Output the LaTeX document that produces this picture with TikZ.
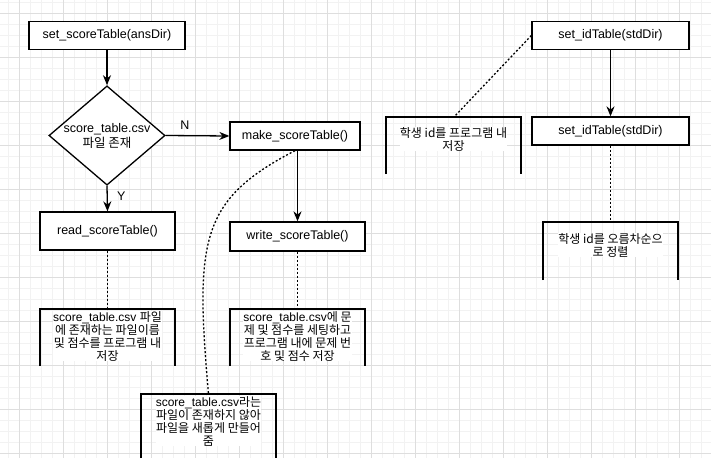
\documentclass[tikz,border=0pt]{standalone}
\usepackage{fontspec}
\setmainfont{Liberation Sans}
\newfontfamily\kr{Noto Sans CJK KR}
\newcommand{\K}[1]{{\kr #1}}
\usetikzlibrary{shapes.geometric,arrows.meta}
\begin{document}
\begin{tikzpicture}[x=1pt,y=-1pt,
  box/.style={draw,line width=1.3pt,fill=white,minimum height=28pt,font=\fontsize{12.5}{14}\selectfont,inner sep=0pt},
  note/.style={fill=white,align=center,font=\fontsize{12}{13}\selectfont,inner sep=0pt,anchor=north},
  side/.style={line width=1.3pt},
  arr/.style={-{Stealth[length=10pt,width=8pt]},line width=1.3pt},
  dot/.style={line width=1.3pt,dash pattern=on 2pt off 2pt}]
\useasboundingbox (0,0) rectangle (711,458);
\fill[white] (0,0) rectangle (711,458);
\foreach \x in {8,19,...,711} \draw[black!5,line width=0.5pt] (\x,0)--(\x,458);
\foreach \y in {2,13,...,458} \draw[black!5,line width=0.5pt] (0,\y)--(711,\y);
\foreach \x in {19,63,...,711} \draw[black!13,line width=0.8pt] (\x,0)--(\x,458);
\foreach \y in {13,57,...,458} \draw[black!13,line width=0.8pt] (0,\y)--(711,\y);

\node[box,minimum width=156pt] (sst) at (107,35.5) {set\_scoreTable(ansDir)};
\node[diamond,draw,line width=1.3pt,fill=white,minimum width=111pt,minimum height=95pt,inner sep=0pt,aspect=1.17,align=center,font=\fontsize{12.5}{15}\selectfont] (dia) at (107,135.5) {score\_table.csv\\\K{파일 존재}};
\node[box,minimum width=130pt] (mk) at (295,136) {make\_scoreTable()};
\node[box,minimum width=135pt,minimum height=38pt] (rd) at (107.5,231) {read\_scoreTable()};
\node[box,minimum width=135pt,minimum height=29pt] (wr) at (297.5,236.5) {write\_scoreTable()};
\node[box,minimum width=157pt] (id1) at (610.5,35.5) {set\_idTable(stdDir)};
\node[box,minimum width=157pt] (id2) at (610.5,131) {set\_idTable(stdDir)};

\coordinate (ra) at (107.5,309);
\draw[side] (40,366)--(40,309)--(175,309)--(175,366);
\node[note] (rn) at (107.5,311) {score\_table.csv \K{파일}\\\K{에 존재하는 파일이름}\\\K{및 점수를 프로그램 내}\\\K{저장}};
\coordinate (wa) at (297.5,309);
\draw[side] (230,366)--(230,309)--(365,309)--(365,366);
\node[note] (wn) at (297.5,311) {score\_table.csv\K{에 문}\\\K{제 및 점수를 세팅하고}\\\K{프로그램 내에 문제 번}\\\K{호 및 점수 저장}};
\coordinate (ma) at (208.5,394);
\draw[side] (141,458)--(141,394)--(276,394)--(276,458);
\node[note] (mn) at (208.5,396) {score\_table.csv\K{라는}\\\K{파일이 존재하지 않아}\\\K{파일을 새롭게 만들어}\\\K{줌}};
\coordinate (ia) at (454,117);
\draw[side] (386,174)--(386,117)--(521,117)--(521,174);
\node[note] (in) at (453.5,127) {\K{학생 id를 프로그램 내}\\\K{저장}};
\coordinate (ja) at (610.5,222);
\draw[side] (543,280)--(543,222)--(678,222)--(678,280);
\node[note] (jn) at (610.5,233) {\K{학생 id를 오름차순으}\\\K{로 정렬}};

\draw[arr] (sst) -- (dia.north);
\draw[arr] (dia.east) -- node[above,pos=0.3,font=\fontsize{12.5}{13}\selectfont,yshift=2pt]{N} (mk.west);
\draw[arr] (dia.south) -- node[right,pos=0.4,font=\fontsize{12.5}{13}\selectfont,xshift=6pt]{Y} (rd.north);
\draw[arr] (mk.south -| 297.5,0) -- (wr.north);
\draw[arr] (id1) -- (id2);
\draw[dot] (rd.south) -- (ra);
\draw[dot] (wr.south) -- (wa);
\draw[dot] (id2.south) -- (ja);
\draw[dot] (id1.west) -- (ia);
\draw[dot] (mk.south) .. controls (200,200) and (195,240) .. (ma);
\end{tikzpicture}
\end{document}
